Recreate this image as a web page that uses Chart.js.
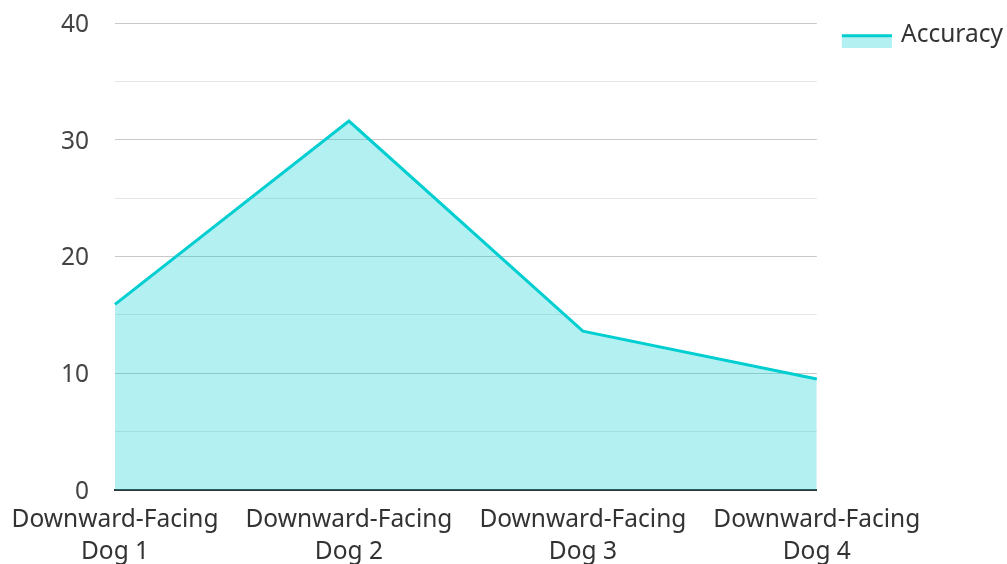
<!DOCTYPE html>
<html>
<head>
<meta charset="utf-8">
<script src="https://cdn.jsdelivr.net/npm/chart.js@4/dist/chart.umd.min.js"></script>
<style>
  html, body { margin: 0; padding: 0; background: #ffffff; overflow: hidden; }
  #wrap { width: 1007px; height: 564px; position: relative; }
</style>
</head>
<body>
<div id="wrap"><canvas id="c"></canvas></div>
<script>
const categories = [["Downward-Facing", "Dog 1"], ["Downward-Facing", "Dog 2"], ["Downward-Facing", "Dog 3"], ["Downward-Facing", "Dog 4"]];
const seriesName = "Accuracy";
const accuracy = [15.9, 31.6, 13.6, 9.5];
const yMin = 0, yMax = 40, yStep = 5, yLabelStep = 10;

const lineColor = "rgb(0,206,209)";
const fillColor = "rgba(0,206,209,0.3)";
const FS = 24.5;

// legend swatch: fill with thick top line (offset inside a larger transparent canvas)
const sw = document.createElement("canvas");
sw.width = 68; sw.height = 26;
const sctx = sw.getContext("2d");
sctx.fillStyle = fillColor; sctx.fillRect(18, 12, 50, 14);
sctx.fillStyle = lineColor; sctx.fillRect(18, 12, 50, 3);

Chart.defaults.font.family = "'Noto Sans', 'Open Sans', sans-serif";
Chart.defaults.font.size = FS;

new Chart(document.getElementById("c"), {
  type: "line",
  data: {
    labels: categories,
    datasets: [{
      label: seriesName,
      data: accuracy,
      borderColor: lineColor,
      backgroundColor: fillColor,
      borderWidth: 3,
      fill: "origin",
      tension: 0,
      pointRadius: 0,
      pointHoverRadius: 0
    }]
  },
  options: {
    responsive: true,
    maintainAspectRatio: false,
    animation: false,
    layout: { padding: { top: 13, left: 0, right: -6, bottom: 0 } },
    plugins: {
      tooltip: { enabled: false },
      legend: {
        position: "right",
        align: "start",
        labels: {
          usePointStyle: true,
          pointStyle: sw,
          pointStyleWidth: 62,
          boxWidth: 62,
          boxHeight: 14,
          padding: 10,
          color: "#333333",
          font: { size: FS }
        }
      }
    },
    scales: {
      x: {
        offset: false,
        grid: { display: false, drawTicks: false },
        border: { display: true, color: "#333333", width: 2 },
        ticks: {
          color: "#333333",
          padding: 14,
          maxRotation: 0,
          autoSkip: false,
          font: { size: FS, lineHeight: 1.31 }
        },
        afterFit: (s) => { s.height = 74; s.paddingLeft = 115; s.paddingRight = 0; }
      },
      y: {
        min: yMin,
        max: yMax,
        grid: {
          drawTicks: false,
          color: (ctx) => (ctx.tick && ctx.tick.value % yLabelStep === 0) ? "#c8c8c8" : "#e6e6e6",
          lineWidth: 1
        },
        border: { display: false },
        ticks: {
          stepSize: yStep,
          color: "#444444",
          padding: 26,
          labelOffset: 2,
          font: { size: FS },
          callback: (v) => (v % yLabelStep === 0) ? String(v) : ""
        },
        afterFit: (s) => { s.paddingTop = 23; s.paddingBottom = 0; }
      }
    }
  }
});
</script>
</body>
</html>
